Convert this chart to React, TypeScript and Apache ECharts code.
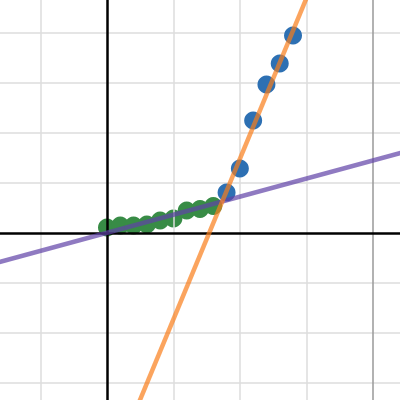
import { useEffect, useRef } from "react";
import * as echarts from "echarts";

// grid lines (in plot units)
const GRID_X = [-1, 1, 2, 3];
const GRID_X_DARK = [4];
const GRID_Y = [-3, -2, -1, 1, 2, 3, 4];

// green points (lower segment)
const GREEN_X = [0, 0.2, 0.4, 0.6, 0.8, 1.0, 1.2, 1.4, 1.6];
const GREEN_Y = [0.11, 0.15, 0.15, 0.17, 0.25, 0.29, 0.45, 0.48, 0.54];

// blue points (upper segment)
const BLUE_X = [1.8, 2.0, 2.2, 2.4, 2.6, 2.8];
const BLUE_Y = [0.81, 1.29, 2.25, 2.97, 3.39, 3.95];

// fitted lines, endpoints
const PURPLE_LINE = [
  [-1.7, -0.61],
  [4.5, 1.63],
];
const ORANGE_LINE = [
  [0.4, -3.65],
  [3.1, 5.01],
];

export default function App() {
  const chartRef = useRef<HTMLDivElement>(null);

  useEffect(() => {
    if (!chartRef.current) return;
    const chart = echarts.init(chartRef.current, undefined, { renderer: "svg" });

    const vLine = (x: number) => ({ xAxis: x });
    const hLine = (y: number) => ({ yAxis: y });

    const option: echarts.EChartsOption = {
      animation: false,
      backgroundColor: "#ffffff",
      grid: { left: 0, right: 0, top: 0, bottom: 0 },
      xAxis: {
        type: "value",
        min: -1.61,
        max: 4.41,
        show: false,
        splitLine: { show: false },
      },
      yAxis: {
        type: "value",
        min: -3.34,
        max: 4.66,
        show: false,
        splitLine: { show: false },
      },
      series: [
        {
          // light grid
          type: "line",
          data: [],
          silent: true,
          z: 1,
          markLine: {
            silent: true,
            symbol: "none",
            label: { show: false },
            lineStyle: { color: "#dcdcdc", width: 1.5, type: "solid" },
            data: [...GRID_X.map(vLine), ...GRID_Y.map(hLine)],
          },
        },
        {
          // darker vertical line
          type: "line",
          data: [],
          silent: true,
          z: 2,
          markLine: {
            silent: true,
            symbol: "none",
            label: { show: false },
            lineStyle: { color: "#999999", width: 1.5, type: "solid" },
            data: GRID_X_DARK.map(vLine),
          },
        },
        {
          // axes
          type: "line",
          data: [],
          silent: true,
          z: 3,
          markLine: {
            silent: true,
            symbol: "none",
            label: { show: false },
            lineStyle: { color: "#000000", width: 2.5, type: "solid" },
            data: [vLine(0), hLine(0)],
          },
        },
        {
          name: "green",
          type: "scatter",
          z: 4,
          symbolSize: 18,
          itemStyle: { color: "#388c46", opacity: 1 },
          data: GREEN_X.map((x, i) => [x, GREEN_Y[i]]),
        },
        {
          name: "blue",
          type: "scatter",
          z: 5,
          symbolSize: 18,
          itemStyle: { color: "#2d70b3", opacity: 1 },
          data: BLUE_X.map((x, i) => [x, BLUE_Y[i]]),
        },
        {
          name: "purple",
          type: "line",
          z: 6,
          showSymbol: false,
          symbol: "none",
          clip: true,
          lineStyle: { color: "#6042a6", width: 4.5, opacity: 0.7 },
          data: PURPLE_LINE,
        },
        {
          name: "orange",
          type: "line",
          z: 7,
          showSymbol: false,
          symbol: "none",
          clip: true,
          lineStyle: { color: "#fa7e19", width: 4.5, opacity: 0.7 },
          data: ORANGE_LINE,
        },
      ],
    };

    chart.setOption(option);
    return () => chart.dispose();
  }, []);

  return (
    <div
      ref={chartRef}
      style={{ position: "absolute", left: 0, top: 0, width: 400, height: 400 }}
    />
  );
}
